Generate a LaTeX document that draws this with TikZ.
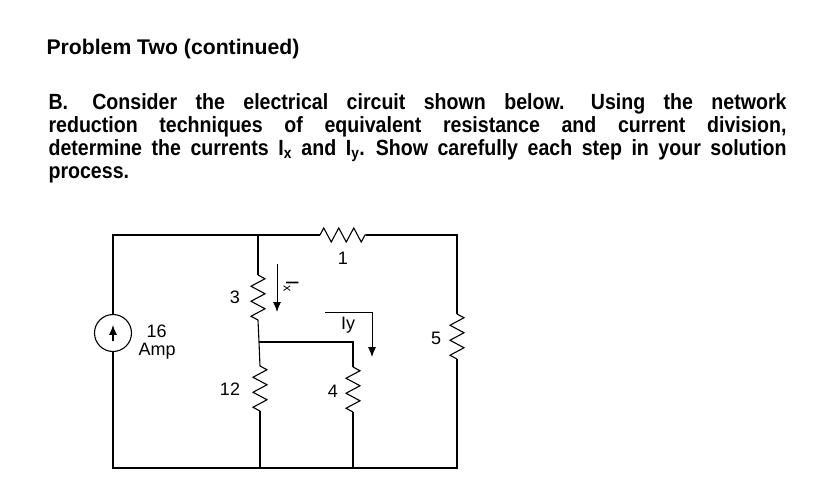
\documentclass[tikz,border=0pt]{standalone}
\usepackage{fontspec}
\setmainfont{Liberation Sans}
\newfontfamily\narrowf{Liberation Sans}[FakeStretch=0.89]
\usetikzlibrary{decorations.pathmorphing,arrows.meta}
\begin{document}
\begin{tikzpicture}[x=1pt,y=-1pt,line width=1.1pt,
  res/.style={decorate,decoration={zigzag,amplitude=7pt,segment length=15pt,pre length=0pt,post length=0pt}},
  lbl/.style={font=\fontsize{18}{18}\selectfont,inner sep=1pt},
  arr/.style={-{Latex[length=10pt,width=8pt]},line width=1.1pt}]
\useasboundingbox (0,0) rectangle (813,482);
\node[anchor=base west,font=\bfseries\fontsize{21.2}{21.2}\selectfont,inner sep=0] (title) at (46,54) {Problem Two (continued)};
\node[anchor=north west,text width=738pt,align=justify,inner sep=0,font=\narrowf\bfseries\fontsize{22}{23}\selectfont] (para) at (48,93)
{B.\hspace{1.1em}Consider the electrical circuit shown below.\hspace{1.2em}Using the network\linebreak reduction techniques of equivalent resistance and current division,\linebreak determine the currents I\textsubscript{x} and I\textsubscript{y}.\hspace{0.5em}Show carefully each step in your solution\linebreak process.};
% coordinates
\coordinate (TL) at (113,235); \coordinate (TM) at (258,235); \coordinate (TR) at (457,235);
\coordinate (BL) at (113,468); \coordinate (BM) at (260,468); \coordinate (B4) at (353,468); \coordinate (BR) at (457,468);
\coordinate (J) at (259,342); \coordinate (J4) at (353,342);
\coordinate (r1a) at (320,235); \coordinate (r1b) at (366,235);
\coordinate (r3a) at (258,275); \coordinate (r3b) at (258,320);
\coordinate (r12a) at (260,366); \coordinate (r12b) at (260,411);
\coordinate (r4a) at (353,367); \coordinate (r4b) at (353,412);
\coordinate (r5a) at (457,314); \coordinate (r5b) at (457,359);
\node[circle,draw,minimum size=37pt,inner sep=0] (src) at (113,333) {};
% wires
\draw (src.north) -- (TL) -- (r1a);
\draw[res] (r1a) -- (r1b);
\draw (r1b) -- (TR) -- (r5a);
\draw[res] (r5a) -- (r5b);
\draw (r5b) -- (BR) -- (BL) -- (src.south);
\draw (TM) -- (r3a); \draw[res] (r3a) -- (r3b); \draw (r3b) -- (J) -- (r12a);
\draw[res] (r12a) -- (r12b); \draw (r12b) -- (BM);
\draw (J) -- (J4) -- (r4a); \draw[res] (r4a) -- (r4b); \draw (r4b) -- (B4);
\draw[arr] ([yshift=11pt]src.south) -- ([yshift=-11pt]src.north);
% labels
\node[lbl,anchor=west] (srcl16) at (145,331) {16};
\node[lbl,anchor=west] (srcla) at (137,351) {Amp};
\node[lbl] (l1) at (343,258) {1};
\node[lbl] (l3) at (235,297) {3};
\node[lbl] (l12) at (230,389) {12};
\node[lbl] (l4) at (333,391) {4};
\node[lbl] (l5) at (436,338) {5};
% currents
\coordinate (ixa) at (277,264); \coordinate (ixb) at (277,312);
\draw[arr,line width=0.9pt] (ixa) -- (ixb);
\node[lbl,rotate=-90] (ixl) at (291,286) {I\textsubscript{x}};
\coordinate (iya) at (325,312); \coordinate (iyc) at (372,312); \coordinate (iyb) at (372,357);
\draw[arr,line width=0.9pt] (iya) -- (iyc) -- (iyb);
\node[lbl] (iyl) at (348,325) {Iy};
\end{tikzpicture}
\end{document}
